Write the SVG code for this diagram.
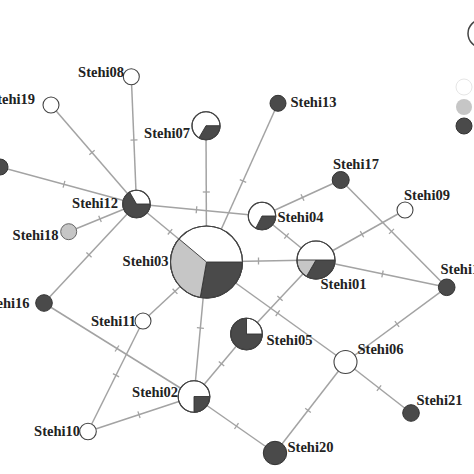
<svg xmlns="http://www.w3.org/2000/svg" width="474" height="474" viewBox="0 0 474 474">
<style>
.e{stroke:#a3a3a3;stroke-width:1.5;fill:none}
.t{stroke:#a3a3a3;stroke-width:1.3}
.w{fill:#fff;stroke:#444;stroke-width:1.1}
.d{fill:#4a4a4a;stroke:#333;stroke-width:1}
.g{fill:#c6c6c6;stroke:#666;stroke-width:1}
.s{stroke:#333;stroke-width:0.9}
.sd{fill:#4a4a4a}
.sg{fill:#c6c6c6}
.o{fill:none;stroke:#444;stroke-width:1.1}
text{font-family:"Liberation Serif","Times New Roman",serif;font-weight:bold;font-size:14.5px;fill:#222}
.r{text-anchor:end}
</style>
<rect width="474" height="474" fill="#fff"/>
<g id="connectors">
<line class="e" x1="131.3" y1="76.7" x2="136.5" y2="204"/>
<line class="t" x1="137.5" y1="139.9" x2="130.5" y2="140.1"/>
<line class="e" x1="51" y1="105" x2="136.5" y2="204"/>
<line class="t" x1="89.35" y1="154.8" x2="94.65" y2="150.2"/>
<line class="e" x1="0" y1="167" x2="136.5" y2="204"/>
<line class="t" x1="63.1" y1="187.7" x2="64.9" y2="180.9"/>
<line class="e" x1="68.7" y1="231.7" x2="136.5" y2="204"/>
<line class="t" x1="101.3" y1="222.1" x2="98.7" y2="215.7"/>
<line class="e" x1="136.5" y1="204" x2="206.5" y2="262"/>
<line class="t" x1="167.8" y1="234.5" x2="172.2" y2="229.1"/>
<line class="e" x1="136.5" y1="204" x2="44" y2="303"/>
<line class="t" x1="86.4" y1="252.4" x2="91.6" y2="257.2"/>
<line class="e" x1="136.5" y1="204" x2="262" y2="216"/>
<line class="t" x1="196.2" y1="213.2" x2="196.8" y2="206.2"/>
<line class="e" x1="206" y1="125.7" x2="206.5" y2="262"/>
<line class="t" x1="202.8" y1="192" x2="209.8" y2="192"/>
<line class="e" x1="278" y1="103.3" x2="206.5" y2="262"/>
<line class="t" x1="239.8" y1="179.6" x2="246.2" y2="182.4"/>
<line class="e" x1="262" y1="216" x2="340.7" y2="180"/>
<line class="t" x1="304" y1="200.7" x2="301" y2="194.3"/>
<line class="e" x1="262" y1="216" x2="316" y2="260"/>
<line class="t" x1="284.3" y1="238.7" x2="288.7" y2="233.3"/>
<line class="e" x1="206.5" y1="262" x2="316" y2="260"/>
<line class="t" x1="258.5" y1="257.5" x2="258.5" y2="264.5"/>
<line class="e" x1="316" y1="260" x2="405" y2="210"/>
<line class="t" x1="363.7" y1="237.3" x2="360.3" y2="231.1"/>
<line class="e" x1="316" y1="260" x2="446.7" y2="287.3"/>
<line class="t" x1="381.8" y1="277.3" x2="383.2" y2="270.5"/>
<line class="e" x1="340.7" y1="180" x2="446.7" y2="287.3"/>
<line class="t" x1="389" y1="233.9" x2="394" y2="228.9"/>
<line class="e" x1="446.7" y1="287.3" x2="345.5" y2="362"/>
<line class="t" x1="394.9" y1="321.2" x2="399.1" y2="326.8"/>
<line class="e" x1="345.5" y1="362" x2="411" y2="413"/>
<line class="t" x1="376.9" y1="390.9" x2="381.1" y2="385.3"/>
<line class="e" x1="345.5" y1="362" x2="275" y2="453"/>
<line class="t" x1="305.2" y1="408.3" x2="310.8" y2="412.5"/>
<line class="e" x1="206.5" y1="262" x2="345.5" y2="362"/>
<line class="t" x1="275.7" y1="316" x2="279.7" y2="310.4"/>
<line class="e" x1="316" y1="260" x2="246.5" y2="334"/>
<line class="t" x1="277.4" y1="295.9" x2="282.6" y2="300.7"/>
<line class="e" x1="206.5" y1="262" x2="194" y2="396.5"/>
<line class="t" x1="196.9" y1="327.7" x2="203.9" y2="328.3"/>
<line class="e" x1="206.5" y1="262" x2="143" y2="321"/>
<line class="t" x1="172.6" y1="288.7" x2="177.4" y2="293.9"/>
<line class="e" x1="44" y1="303" x2="194" y2="396.5"/>
<line class="t" x1="115.1" y1="351.5" x2="118.9" y2="345.5"/>
<line class="e" x1="143" y1="321" x2="88" y2="431.5"/>
<line class="t" x1="112.9" y1="373.6" x2="119.1" y2="376.8"/>
<line class="e" x1="88" y1="431.5" x2="194" y2="396.5"/>
<line class="t" x1="140.1" y1="418" x2="137.9" y2="411.4"/>
<line class="e" x1="194" y1="396.5" x2="246.5" y2="334"/>
<line class="t" x1="224.2" y1="366" x2="218.8" y2="361.6"/>
<line class="e" x1="194" y1="396.5" x2="275" y2="453"/>
<line class="t" x1="234.5" y1="429" x2="238.5" y2="423.2"/>
</g>
<g id="Stehi08"><circle class="w" cx="131.3" cy="76.7" r="8"/><text class="r" x="124" y="77">Stehi08</text></g>
<g id="Stehi19"><circle class="w" cx="51" cy="105" r="8"/><text class="r" x="35" y="104">Stehi19</text></g>
<g id="Stehi13"><circle class="d" cx="278" cy="103.3" r="8"/><text x="290.5" y="107">Stehi13</text></g>
<g id="Stehi07"><circle class="w" cx="206" cy="125.7" r="14"/><path class="sd s" d="M206,125.7 L220,125.7 A14,14 0 0,1 199,137.8 Z"/><circle class="o" cx="206" cy="125.7" r="14"/><text class="r" x="190" y="138">Stehi07</text></g>
<g id="Stehi15"><circle class="d" cx="0" cy="167" r="8"/></g>
<g id="Stehi12"><circle class="w" cx="136.5" cy="204" r="13.7"/><path class="sd s" d="M136.5,204 L150.2,204 A13.7,13.7 0 1,1 129.65,192.1 Z"/><circle class="o" cx="136.5" cy="204" r="13.7"/><text class="r" x="118" y="207.5">Stehi12</text></g>
<g id="Stehi18"><circle class="g" cx="68.7" cy="231.7" r="8"/><text class="r" x="58.5" y="239.5">Stehi18</text></g>
<g id="Stehi17"><circle class="d" cx="340.7" cy="180" r="8.5"/><text x="333" y="168.5">Stehi17</text></g>
<g id="Stehi09"><circle class="w" cx="405" cy="210" r="8"/><text x="404" y="199.5">Stehi09</text></g>
<g id="Stehi04"><circle class="w" cx="262" cy="216" r="13.7"/><path class="sd s" d="M262,216 L275.7,216 A13.7,13.7 0 0,1 255.8,228.2 Z"/><circle class="o" cx="262" cy="216" r="13.7"/><text x="277.5" y="222">Stehi04</text></g>
<g id="Stehi03"><circle class="w" cx="206.5" cy="262" r="36"/><path class="sd s" d="M206.5,262 L242.5,262 A36,36 0 0,1 200.25,297.45 Z"/><path class="sg s" d="M206.5,262 L200.25,297.45 A36,36 0 0,1 178.92,238.86 Z"/><circle class="o" cx="206.5" cy="262" r="36"/><text class="r" x="168.5" y="265.5">Stehi03</text></g>
<g id="Stehi01"><circle class="w" cx="316" cy="260" r="19"/><path class="sd s" d="M316,260 L335,260 A19,19 0 0,1 306.5,276.45 Z"/><path class="sg s" d="M316,260 L306.5,276.45 A19,19 0 0,1 297,260 Z"/><circle class="o" cx="316" cy="260" r="19"/><text x="320.5" y="288.5">Stehi01</text></g>
<g id="Stehi14"><circle class="d" cx="446.7" cy="287.3" r="8.3"/><text x="440.5" y="273.5">Stehi14</text></g>
<g id="Stehi16"><circle class="d" cx="44" cy="303" r="8.3"/><text class="r" x="29.5" y="307.5">Stehi16</text></g>
<g id="Stehi11"><circle class="w" cx="143" cy="321" r="8"/><text class="r" x="136" y="326">Stehi11</text></g>
<g id="Stehi05"><circle class="w" cx="246.5" cy="334" r="15.8"/><path class="sd s" d="M246.5,334 L262.3,334 A15.8,15.8 0 1,1 246.5,318.2 Z"/><circle class="o" cx="246.5" cy="334" r="15.8"/><text x="266.5" y="344.5">Stehi05</text></g>
<g id="Stehi06"><circle class="w" cx="345.5" cy="362" r="11.5"/><text x="357.5" y="353.5">Stehi06</text></g>
<g id="Stehi02"><circle class="w" cx="194" cy="396.5" r="15.8"/><path class="sd s" d="M194,396.5 L209.8,396.5 A15.8,15.8 0 0,1 194,412.3 Z"/><circle class="o" cx="194" cy="396.5" r="15.8"/><text class="r" x="178" y="397">Stehi02</text></g>
<g id="Stehi10"><circle class="w" cx="88" cy="431.5" r="8.3"/><text class="r" x="80" y="435.5">Stehi10</text></g>
<g id="Stehi20"><circle class="d" cx="275" cy="453" r="11.7"/><text x="287.5" y="452">Stehi20</text></g>
<g id="Stehi21"><circle class="d" cx="411" cy="413" r="8.3"/><text x="416.5" y="404.5">Stehi21</text></g>
<g id="legend">
<circle cx="482" cy="33.5" r="14" fill="none" stroke="#444" stroke-width="1.5"/>
<circle cx="464" cy="87" r="8" fill="#fff" stroke="#e6e6e6" stroke-width="1"/>
<circle cx="464" cy="107" r="8" fill="#c6c6c6"/>
<circle cx="464" cy="126" r="8" fill="#4a4a4a" stroke="#333" stroke-width="1"/>
</g>
</svg>
